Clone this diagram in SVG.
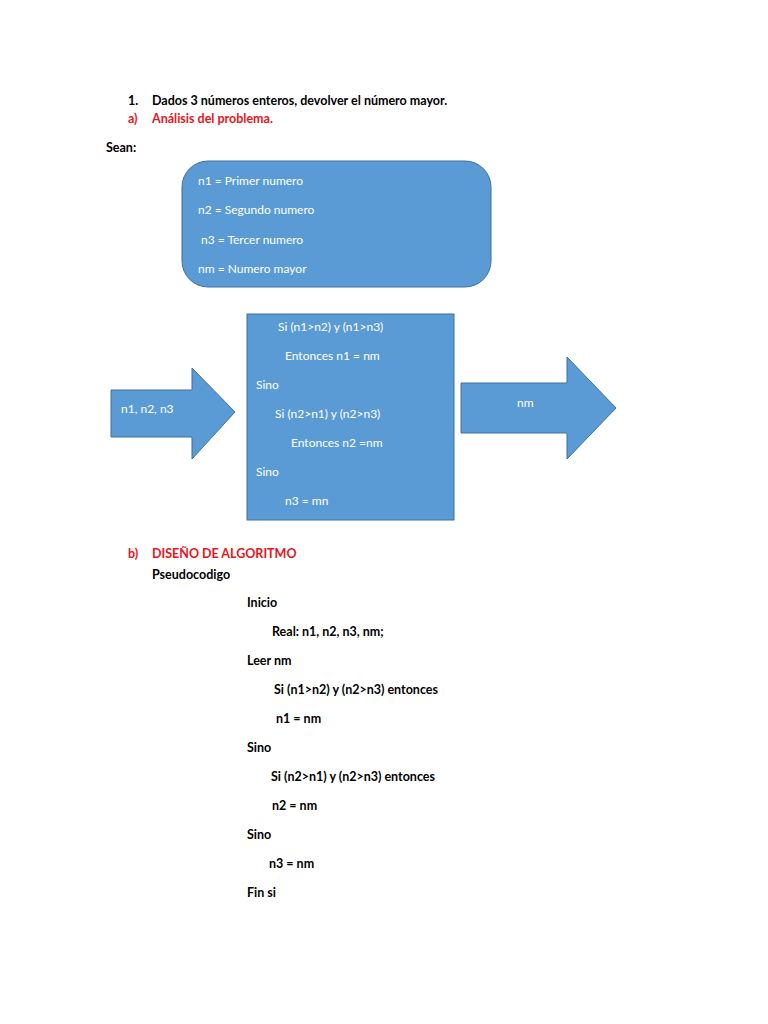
<svg xmlns="http://www.w3.org/2000/svg" width="768" height="1024" viewBox="0 0 768 1024">
<style>
text{font-family:Lato,"Liberation Sans",sans-serif;font-size:12.5px}
.b{font-weight:bold;fill:#000}
.r{font-weight:bold;fill:#e8141b}
.w{fill:#fff;font-size:12px}
.shape{fill:#5b9bd5;stroke:#41719c;stroke-width:1}
</style>
<rect width="768" height="1024" fill="#fff"/>
<text class="b" x="128" y="105">1.</text>
<text class="b" x="152" y="105">Dados 3 números enteros, devolver el número mayor.</text>
<text class="r" x="128" y="123">a)</text>
<text class="r" x="152" y="123">Análisis del problema.</text>
<text class="b" x="106" y="152">Sean:</text>
<g id="defs-box">
<rect class="shape" x="182" y="161" width="309" height="126" rx="26"/>
<text class="w" x="198" y="185">n1 = Primer numero</text>
<text class="w" x="198" y="214">n2 = Segundo numero</text>
<text class="w" x="201" y="244">n3 = Tercer numero</text>
<text class="w" x="198" y="273">nm = Numero mayor</text>
</g>
<g id="input-arrow">
<polygon class="shape" points="111,390 192,390 192,368 235,412 192,459 192,437 111,437"/>
<text class="w" x="121" y="413">n1, n2, n3</text>
</g>
<g id="process-box">
<rect class="shape" x="247" y="314" width="207" height="206"/>
<text class="w" x="278" y="331">Si (n1&gt;n2) y (n1&gt;n3)</text>
<text class="w" x="285" y="360">Entonces n1 = nm</text>
<text class="w" x="256" y="389">Sino</text>
<text class="w" x="275" y="418">Si (n2&gt;n1) y (n2&gt;n3)</text>
<text class="w" x="291" y="447">Entonces n2 =nm</text>
<text class="w" x="256" y="476">Sino</text>
<text class="w" x="285" y="505">n3 = mn</text>
</g>
<g id="output-arrow">
<polygon class="shape" points="461,383 567,383 567,357 616,408 567,459 567,433 461,433"/>
<text class="w" x="517" y="407">nm</text>
</g>
<g id="connectors"></g>
<text class="r" x="128" y="558">b)</text>
<text class="r" x="152" y="558">DISEÑO DE ALGORITMO</text>
<text class="b" x="152" y="579">Pseudocodigo</text>
<g class="code">
<text class="b" x="247" y="607">Inicio</text>
<text class="b" x="272" y="636">Real: n1, n2, n3, nm;</text>
<text class="b" x="247" y="665">Leer nm</text>
<text class="b" x="274" y="694">Si (n1&gt;n2) y (n2&gt;n3) entonces</text>
<text class="b" x="276" y="723">n1 = nm</text>
<text class="b" x="247" y="752">Sino</text>
<text class="b" x="271" y="781">Si (n2&gt;n1) y (n2&gt;n3) entonces</text>
<text class="b" x="272" y="810">n2 = nm</text>
<text class="b" x="247" y="839">Sino</text>
<text class="b" x="269" y="868">n3 = nm</text>
<text class="b" x="247" y="897">Fin si</text>
</g>
</svg>
